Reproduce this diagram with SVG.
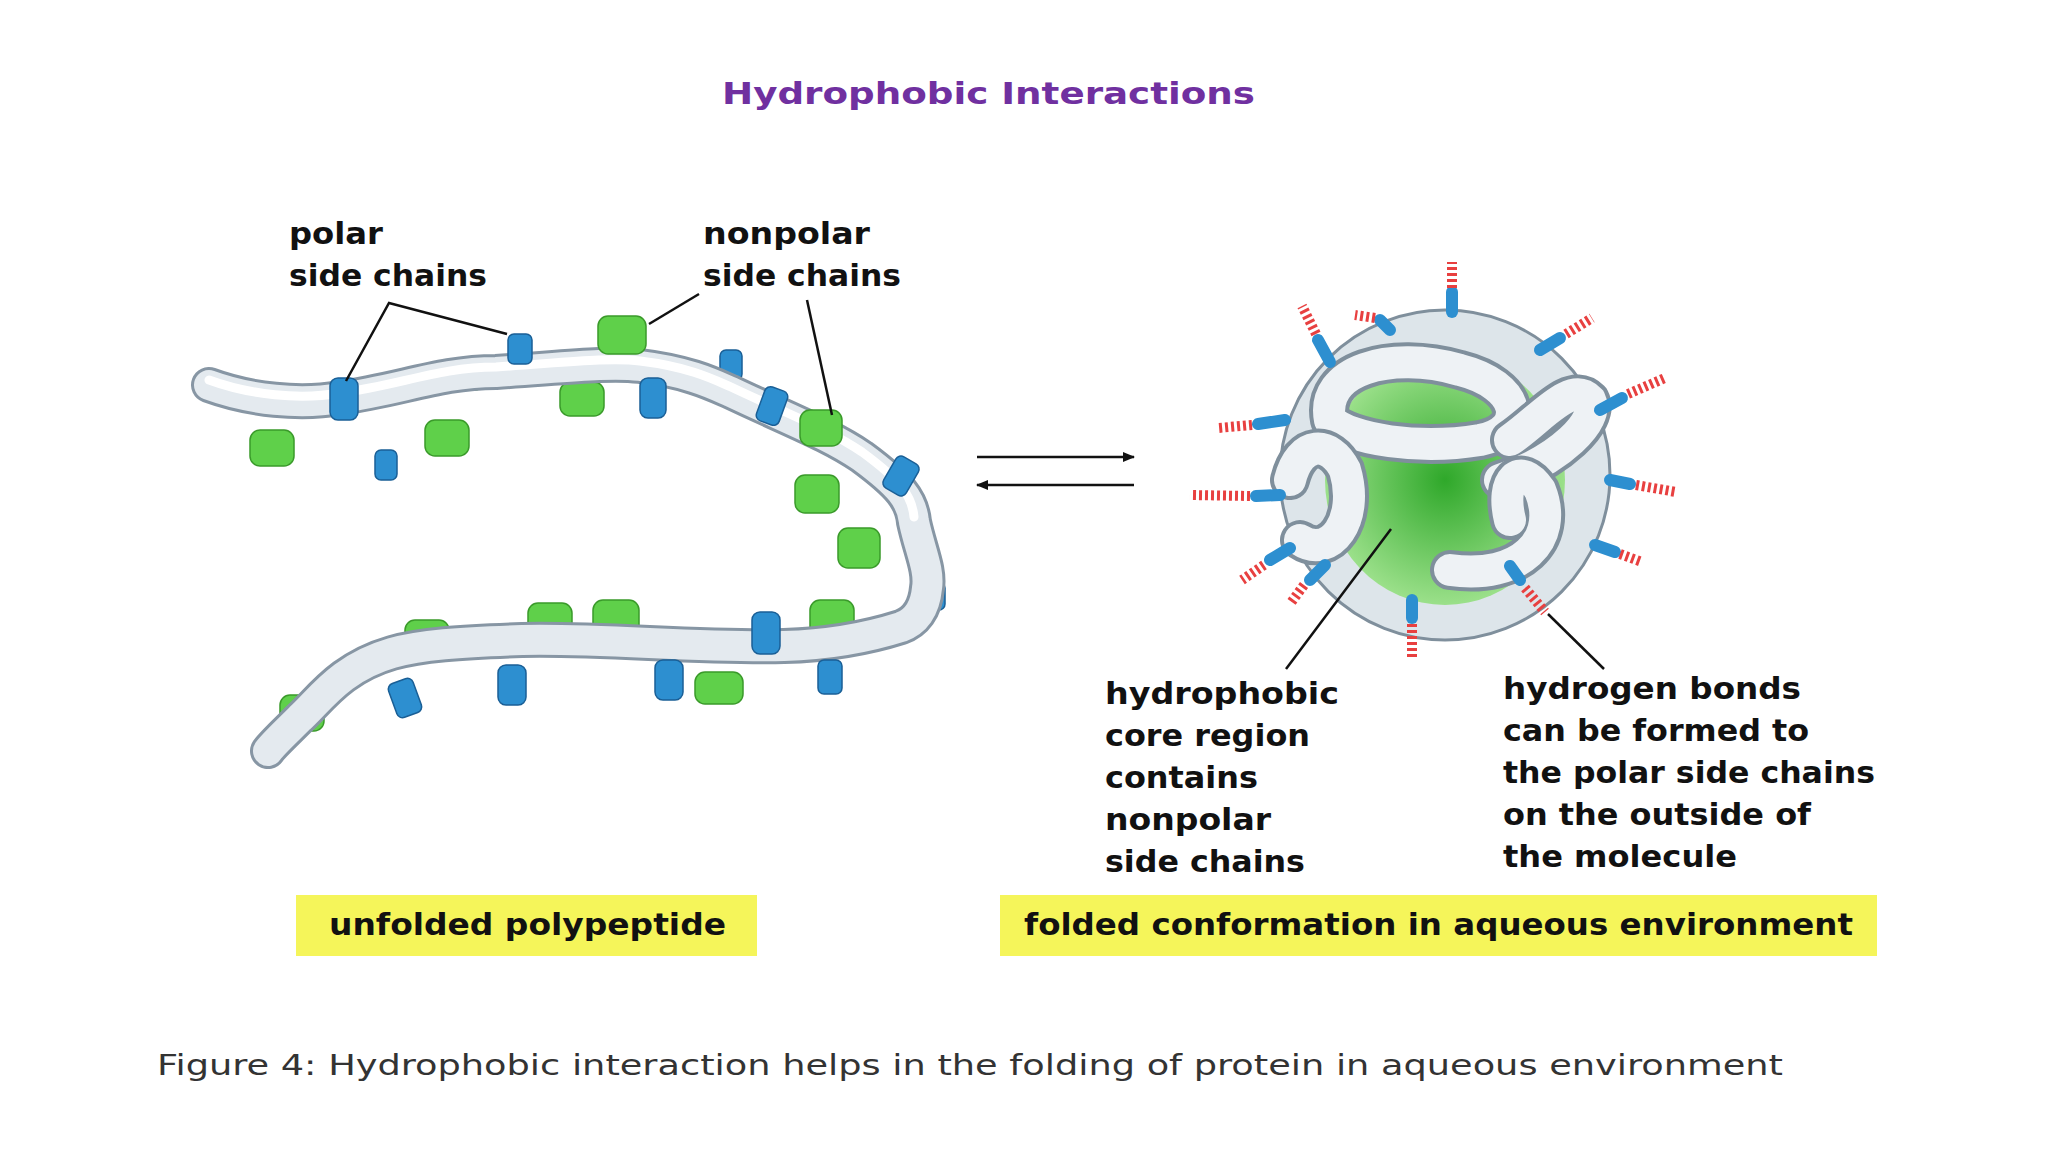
<svg xmlns="http://www.w3.org/2000/svg" width="2048" height="1152" viewBox="0 0 2048 1152">
<defs>
<style>
.lbl{font-family:"DejaVu Sans","Open Sans",sans-serif;font-weight:bold;font-size:30px;fill:#111}
.ll{stroke:#111;stroke-width:2.5;fill:none}
.b{fill:#2d8fd0;stroke:#1a5f96;stroke-width:1.5}
.g{fill:#5fd04a;stroke:#3a9a2a;stroke-width:1.5}
.sp{stroke:#2d8fd0;stroke-width:12;stroke-linecap:round}
.rd{stroke:#e84040;stroke-width:10;stroke-dasharray:3 3}
</style>
<radialGradient id="core" cx="50%" cy="50%" r="50%"><stop offset="0" stop-color="#2fa82a"/><stop offset="1" stop-color="#9be08a"/></radialGradient>
<marker id="ah" markerWidth="12" markerHeight="10" refX="11" refY="5" orient="auto" markerUnits="userSpaceOnUse"><path d="M0,0 L12,5 L0,10 Z" fill="#111"/></marker>
</defs>
<rect width="2048" height="1152" fill="#fff"/>
<text x="722" y="104" textLength="533" lengthAdjust="spacingAndGlyphs" font-family="DejaVu Sans,Open Sans,sans-serif" font-weight="bold" font-size="31" fill="#7030a0">Hydrophobic Interactions</text>

<g id="unfolded">
<g id="sidechains-back">
<rect class="g" x="250" y="430" width="44" height="36" rx="10"/>
<rect class="g" x="425" y="420" width="44" height="36" rx="10"/>
<rect class="b" x="375" y="450" width="22" height="30" rx="6"/>
<rect class="g" x="560" y="382" width="44" height="34" rx="10"/>
<rect class="g" x="445" y="360" width="40" height="30" rx="10"/>
<rect class="b" x="720" y="350" width="22" height="30" rx="6"/>
<rect class="g" x="795" y="475" width="44" height="38" rx="10"/>
<rect class="g" x="838" y="528" width="42" height="40" rx="10"/>
<rect class="b" x="925" y="582" width="20" height="28" rx="6"/>
<rect class="g" x="810" y="600" width="44" height="40" rx="10"/>
<rect class="g" x="528" y="603" width="44" height="38" rx="10"/>
<rect class="g" x="593" y="600" width="46" height="40" rx="10"/>
<rect class="g" x="405" y="620" width="44" height="32" rx="10"/>
<rect class="g" x="695" y="672" width="48" height="32" rx="10"/>
<rect class="g" x="280" y="695" width="44" height="36" rx="10"/>
</g>
<path d="M209,385 C250,400 300,405 340,398 C400,390 440,372 496,372 C560,368 610,362 640,366 C690,372 715,385 731,392 C790,420 830,435 862,457 C900,485 912,500 914,522 C920,550 930,570 927,588 C925,610 915,622 901,627 C860,640 820,645 784,646 C700,648 600,638 522,640 C460,642 420,645 392,653 C340,668 320,700 300,718 C285,733 272,745 268,751" fill="none" stroke="#8796a4" stroke-width="36" stroke-linecap="round"/>
<path d="M209,385 C250,400 300,405 340,398 C400,390 440,372 496,372 C560,368 610,362 640,366 C690,372 715,385 731,392 C790,420 830,435 862,457 C900,485 912,500 914,522 C920,550 930,570 927,588 C925,610 915,622 901,627 C860,640 820,645 784,646 C700,648 600,638 522,640 C460,642 420,645 392,653 C340,668 320,700 300,718 C285,733 272,745 268,751" fill="none" stroke="#e4eaef" stroke-width="30" stroke-linecap="round"/>
<path d="M209,380 C250,395 300,400 340,393 C400,385 440,367 496,367 C560,363 610,357 640,361 C690,367 715,380 731,387 C790,415 830,430 862,452 C900,480 912,495 914,517" fill="none" stroke="#fff" stroke-width="9" stroke-linecap="round"/>
<g id="sidechains-front">
<rect class="b" x="330" y="378" width="28" height="42" rx="8"/>
<rect class="b" x="508" y="334" width="24" height="30" rx="6"/>
<rect class="g" x="598" y="316" width="48" height="38" rx="10"/>
<rect class="b" x="640" y="378" width="26" height="40" rx="8"/>
<rect class="b" x="760" y="388" width="24" height="36" rx="6" transform="rotate(20 772 406)"/>
<rect class="g" x="800" y="410" width="42" height="36" rx="10"/>
<rect class="b" x="888" y="458" width="26" height="36" rx="6" transform="rotate(30 901 476)"/>
<rect class="b" x="752" y="612" width="28" height="42" rx="8"/>
<rect class="b" x="818" y="660" width="24" height="34" rx="6"/>
<rect class="b" x="655" y="660" width="28" height="40" rx="8"/>
<rect class="b" x="498" y="665" width="28" height="40" rx="8"/>
<rect class="b" x="392" y="680" width="26" height="36" rx="6" transform="rotate(-20 405 698)"/>
</g>
</g>

<g id="folded">
<circle cx="1445" cy="475" r="165" fill="#dde5ea" stroke="#7f8f9c" stroke-width="3"/>
<ellipse cx="1445" cy="480" rx="120" ry="125" fill="url(#core)"/>
<g fill="none" stroke-linecap="round">
<path d="M1330,420 C1320,370 1390,350 1460,370 C1520,385 1530,430 1480,440 C1420,450 1350,440 1330,420" stroke="#7f8f9c" stroke-width="40"/>
<path d="M1330,420 C1320,370 1390,350 1460,370 C1520,385 1530,430 1480,440 C1420,450 1350,440 1330,420" stroke="#eef2f5" stroke-width="32"/>
<path d="M1500,480 C1560,460 1600,420 1590,400 C1570,380 1540,420 1510,440" stroke="#7f8f9c" stroke-width="40"/>
<path d="M1500,480 C1560,460 1600,420 1590,400 C1570,380 1540,420 1510,440" stroke="#eef2f5" stroke-width="32"/>
<path d="M1290,480 C1300,440 1330,440 1345,470 C1360,520 1330,560 1300,540" stroke="#7f8f9c" stroke-width="40"/>
<path d="M1290,480 C1300,440 1330,440 1345,470 C1360,520 1330,560 1300,540" stroke="#eef2f5" stroke-width="32"/>
<path d="M1450,570 C1520,580 1560,540 1540,490 C1520,460 1500,480 1510,520" stroke="#7f8f9c" stroke-width="40"/>
<path d="M1450,570 C1520,580 1560,540 1540,490 C1520,460 1500,480 1510,520" stroke="#eef2f5" stroke-width="32"/>
</g>
<g id="spikes">
<line class="sp" x1="1452" y1="312" x2="1452" y2="292"/><line class="rd" x1="1452" y1="288" x2="1452" y2="262"/>
<line class="sp" x1="1330" y1="362" x2="1318" y2="340"/><line class="rd" x1="1316" y1="334" x2="1302" y2="306"/>
<line class="sp" x1="1390" y1="330" x2="1380" y2="320"/><line class="rd" x1="1375" y1="318" x2="1355" y2="315"/>
<line class="sp" x1="1540" y1="350" x2="1560" y2="338"/><line class="rd" x1="1566" y1="334" x2="1592" y2="318"/>
<line class="sp" x1="1600" y1="410" x2="1622" y2="398"/><line class="rd" x1="1628" y1="394" x2="1665" y2="378"/>
<line class="sp" x1="1285" y1="420" x2="1258" y2="424"/><line class="rd" x1="1252" y1="425" x2="1218" y2="428"/>
<line class="sp" x1="1280" y1="495" x2="1256" y2="496"/><line class="rd" x1="1250" y1="496" x2="1190" y2="495"/>
<line class="sp" x1="1610" y1="480" x2="1630" y2="484"/><line class="rd" x1="1636" y1="485" x2="1676" y2="492"/>
<line class="sp" x1="1595" y1="545" x2="1615" y2="552"/><line class="rd" x1="1620" y1="554" x2="1642" y2="562"/>
<line class="sp" x1="1290" y1="548" x2="1270" y2="560"/><line class="rd" x1="1264" y1="565" x2="1242" y2="580"/>
<line class="sp" x1="1325" y1="565" x2="1310" y2="580"/><line class="rd" x1="1304" y1="585" x2="1290" y2="604"/>
<line class="sp" x1="1412" y1="600" x2="1412" y2="618"/><line class="rd" x1="1412" y1="624" x2="1412" y2="660"/>
<line class="sp" x1="1510" y1="566" x2="1520" y2="580"/><line class="rd" x1="1525" y1="588" x2="1545" y2="612"/>
</g>
</g>

<g id="connectors">
<line class="ll" x1="977" y1="457" x2="1134" y2="457" marker-end="url(#ah)"/>
<line class="ll" x1="1134" y1="485" x2="977" y2="485" marker-end="url(#ah)"/>
<polyline class="ll" points="346,381 389,303 507,334"/>
<line class="ll" x1="699" y1="294" x2="649" y2="324"/>
<line class="ll" x1="807" y1="300" x2="832" y2="415"/>
<line class="ll" x1="1286" y1="669" x2="1391" y2="529"/>
<line class="ll" x1="1604" y1="669" x2="1548" y2="614"/>
</g>

<g id="labels">
<text class="lbl" x="289" y="244" textLength="94" lengthAdjust="spacingAndGlyphs">polar</text>
<text class="lbl" x="289" y="286" textLength="198" lengthAdjust="spacingAndGlyphs">side chains</text>
<text class="lbl" x="703" y="244" textLength="167" lengthAdjust="spacingAndGlyphs">nonpolar</text>
<text class="lbl" x="703" y="286" textLength="198" lengthAdjust="spacingAndGlyphs">side chains</text>
<text class="lbl" x="1105" y="704" textLength="234" lengthAdjust="spacingAndGlyphs">hydrophobic</text>
<text class="lbl" x="1105" y="746" textLength="205" lengthAdjust="spacingAndGlyphs">core region</text>
<text class="lbl" x="1105" y="788" textLength="153" lengthAdjust="spacingAndGlyphs">contains</text>
<text class="lbl" x="1105" y="830" textLength="166" lengthAdjust="spacingAndGlyphs">nonpolar</text>
<text class="lbl" x="1105" y="872" textLength="200" lengthAdjust="spacingAndGlyphs">side chains</text>
<text class="lbl" x="1503" y="699" textLength="298" lengthAdjust="spacingAndGlyphs">hydrogen bonds</text>
<text class="lbl" x="1503" y="741" textLength="306" lengthAdjust="spacingAndGlyphs">can be formed to</text>
<text class="lbl" x="1503" y="783" textLength="372" lengthAdjust="spacingAndGlyphs">the polar side chains</text>
<text class="lbl" x="1503" y="825" textLength="308" lengthAdjust="spacingAndGlyphs">on the outside of</text>
<text class="lbl" x="1503" y="867" textLength="234" lengthAdjust="spacingAndGlyphs">the molecule</text>
</g>
<g id="box1"><rect x="296" y="895" width="461" height="61" fill="#f5f55a"/><text class="lbl" x="329" y="935" textLength="397" lengthAdjust="spacingAndGlyphs">unfolded polypeptide</text></g>
<g id="box2"><rect x="1000" y="895" width="877" height="61" fill="#f5f55a"/><text class="lbl" x="1024" y="935" textLength="829" lengthAdjust="spacingAndGlyphs">folded conformation in aqueous environment</text></g>
<text x="157" y="1075" textLength="1626" lengthAdjust="spacingAndGlyphs" font-family="DejaVu Sans,Open Sans,sans-serif" font-size="28" fill="#333">Figure 4: Hydrophobic interaction helps in the folding of protein in aqueous environment</text>
</svg>
